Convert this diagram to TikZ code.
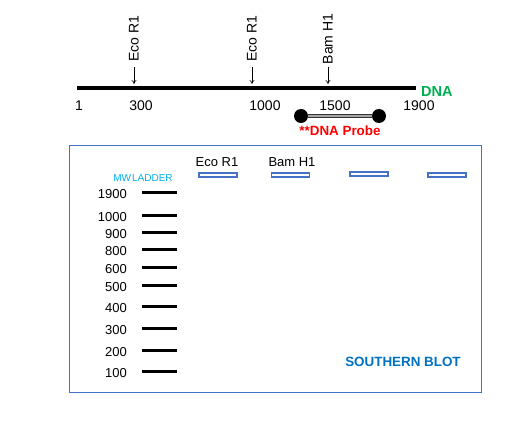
\documentclass[tikz,border=0pt]{standalone}
\usepackage{fontspec}
\setmainfont{Liberation Sans}
\usetikzlibrary{arrows.meta}
\definecolor{dnagreen}{RGB}{0,176,80}
\definecolor{boxblue}{RGB}{68,114,196}
\definecolor{laddercyan}{RGB}{0,176,240}
\definecolor{blotblue}{RGB}{0,112,192}
\tikzset{
  num/.style={font=\fontsize{14}{16}\selectfont, inner sep=0pt},
  lnum/.style={font=\fontsize{13}{15}\selectfont, inner sep=0pt, anchor=east},
  site/.style={font=\fontsize{14}{16}\selectfont, inner sep=0pt, rotate=90},
  cut/.style={-{To[length=4pt,width=5pt]}, line width=0.6pt},
  band/.style={line width=3pt},
  well/.style={draw=boxblue, line width=1.6pt, minimum width=38pt, minimum height=4.5pt, inner sep=0pt},
  lane/.style={font=\fontsize{13}{15}\selectfont, inner sep=0pt},
  dot/.style={circle, fill=black, minimum size=14pt, inner sep=0pt}
}
\begin{document}
\begin{tikzpicture}[x=1pt,y=-1pt]
\useasboundingbox (0,0) rectangle (531,422);
% DNA line
\coordinate (dnaL) at (77,88);
\coordinate (dnaR) at (416,88);
\draw[line width=3.5pt] (dnaL) -- (dnaR);
\node[font=\bfseries\fontsize{14.5}{16}\selectfont, text=dnagreen, inner sep=0pt, anchor=west] (dnalab) at (421,92) {DNA};
\node[num] (n1) at (79,105.5) {1};
\node[num] (n300) at (141,105.5) {300};
\node[num] (n1000) at (265,105.5) {1000};
\node[num] (n1500) at (335,105.5) {1500};
\node[num] (n1900) at (419,105.5) {1900};
% cut sites
\node[site] (s1) at (134,39) {Eco R1};
\node[site] (s2) at (252,39) {Eco R1};
\node[site] (s3) at (328,39) {Bam H1};
\coordinate (a1) at (134,84);
\coordinate (a2) at (252,84);
\coordinate (a3) at (328,84);
\draw[cut] (134,67) -- (a1);
\draw[cut] (252,67) -- (a2);
\draw[cut] (328,67) -- (a3);
% probe
\node[dot] (p1) at (301,116) {};
\node[dot] (p2) at (379,116) {};
\draw[double=black!35, double distance=2pt, line width=0.8pt, draw=black!80] (p1) -- (p2);
\node[font=\bfseries\fontsize{13.4}{15}\selectfont, text=red, inner sep=0pt] (plab) at (340,131) {**DNA Probe};
% gel box
\node[draw=boxblue, line width=1pt, minimum width=412pt, minimum height=247pt, anchor=north west, inner sep=0pt] (gel) at (69,145) {};
\node[font=\fontsize{10}{12}\selectfont, text=laddercyan, inner sep=0pt] (mw) at (143,178) {MW\hspace{1pt}LADDER};
% ladder
\foreach \v/\y in {1900/193,1000/216,900/233,800/250,600/268,500/286,400/307,300/329,200/351,100/372}{
  \node[lnum] (l\v) at (127,\y+1) {\v};
  \draw[band] (142,\y) -- (177,\y);
}
% lanes
\node[lane] (e1) at (217,162) {Eco R1};
\node[lane] (b1) at (292,162) {Bam H1};
\node[well] (w1) at (218,175) {};
\node[well] (w2) at (290.5,175) {};
\node[well] (w3) at (369,174) {};
\node[well] (w4) at (447,175) {};
\node[font=\bfseries\fontsize{13.4}{15}\selectfont, text=blotblue, inner sep=0pt] (sb) at (403,362) {SOUTHERN BLOT};
\end{tikzpicture}
\end{document}
